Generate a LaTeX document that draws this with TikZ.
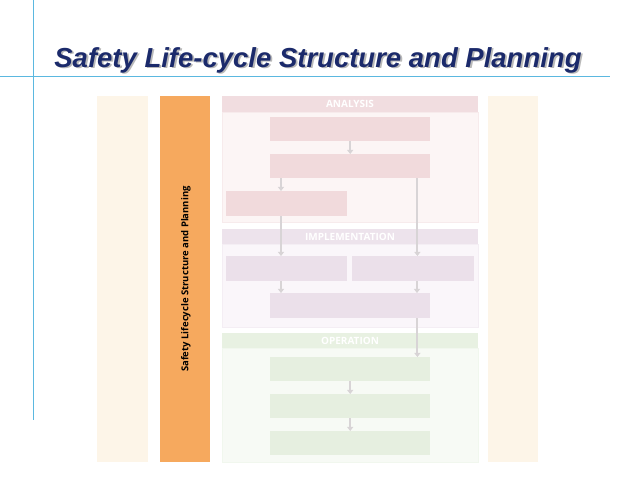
\documentclass[tikz,border=0pt]{standalone}
\usepackage{fontspec}
\setmainfont{Liberation Sans}
\newfontfamily\lbl{Open Sans}
\usetikzlibrary{arrows.meta}
\definecolor{navy}{HTML}{1B2A6B}
\definecolor{rule}{HTML}{5BB8E0}
\definecolor{cream}{HTML}{FDF5E8}
\definecolor{orng}{HTML}{F6A95E}
\definecolor{pkhead}{HTML}{F1DDE0}
\definecolor{pkbg}{HTML}{FCF5F5}
\definecolor{pkbox}{HTML}{F1DADC}
\definecolor{imhead}{HTML}{EDE3EC}
\definecolor{imbg}{HTML}{FAF6FA}
\definecolor{imbox}{HTML}{EBE0EA}
\definecolor{ophead}{HTML}{E8F1E2}
\definecolor{opbg}{HTML}{F7FAF5}
\definecolor{opbox}{HTML}{E6EFE0}
\definecolor{arr}{HTML}{D8D4D6}
\tikzset{
 bx/.style={draw=none,inner sep=0pt,anchor=north west},
 flow/.style={draw=arr,line width=2pt,-{Triangle[width=6pt,length=4pt]}},
 hdr/.style={font=\lbl\bfseries\fontsize{10}{11}\selectfont,text=white},
 ttl/.style={font=\bfseries\itshape\fontsize{27.5}{30}\selectfont}
}
\begin{document}
\begin{tikzpicture}[x=1pt,y=-1pt]
\useasboundingbox (0,0) rectangle (638,478);
\draw[rule,line width=0.6pt] (33,0) -- (33,420);
\draw[rule,line width=0.6pt] (0,76) -- (610,76);
\node[ttl,text=gray!55] at (319.8,61.8) {Safety Life-cycle Structure and Planning};
\node (title) [ttl,text=navy] at (318,60) {Safety Life-cycle Structure and Planning};
% side panels
\fill[cream] (97,96) rectangle (148,462);
\fill[cream] (488,96) rectangle (538,462);
\fill[orng] (160,96) rectangle (210,462);
\node (side) [rotate=90,font=\lbl\bfseries\fontsize{9.5}{10}\selectfont] at (186,279) {Safety Lifecycle Structure and Planning};
% sections
\filldraw[fill=pkbg,draw=pkhead!60] (222,112) rectangle (478,222);
\fill[pkhead] (222,96) rectangle (478,112);
\node (ha) [hdr] at (350,104) {ANALYSIS};
\filldraw[fill=imbg,draw=imhead!60] (222,244) rectangle (478,327);
\fill[imhead] (222,229) rectangle (478,244);
\node (hi) [hdr] at (350,237) {IMPLEMENTATION};
\filldraw[fill=opbg,draw=ophead!60] (222,348) rectangle (478,462);
\fill[ophead] (222,333) rectangle (478,348);
\node (ho) [hdr] at (350,341) {OPERATION};
% boxes
\node (a1) [bx,fill=pkbox,minimum width=160pt,minimum height=24pt] at (270,117) {};
\node (a2) [bx,fill=pkbox,minimum width=160pt,minimum height=24pt] at (270,154) {};
\node (a3) [bx,fill=pkbox,minimum width=121pt,minimum height=25pt] at (226,191) {};
\node (i1) [bx,fill=imbox,minimum width=121pt,minimum height=25pt] at (226,256) {};
\node (i2) [bx,fill=imbox,minimum width=122pt,minimum height=25pt] at (352,256) {};
\node (i3) [bx,fill=imbox,minimum width=160pt,minimum height=25pt] at (270,293) {};
\node (o1) [bx,fill=opbox,minimum width=160pt,minimum height=24pt] at (270,357) {};
\node (o2) [bx,fill=opbox,minimum width=160pt,minimum height=24pt] at (270,394) {};
\node (o3) [bx,fill=opbox,minimum width=160pt,minimum height=24pt] at (270,431) {};
% arrows
\draw[flow] (a1.south) -- (a2.north);
\draw[flow] (a2.south west) ++(11,0) coordinate (s1) -- (s1 |- a3.north);
\draw[flow] (a3.south west) ++(55,0) coordinate (s2) -- (s2 |- i1.north);
\draw[flow] (a2.south east) ++(-13,0) coordinate (s3) -- (s3 |- i2.north);
\draw[flow] (i1.south west) ++(55,0) coordinate (s4) -- (s4 |- i3.north);
\draw[flow] (i2.south west) ++(65,0) coordinate (s5) -- (s5 |- i3.north);
\draw[flow] (i3.south east) ++(-13,0) coordinate (s6) -- (s6 |- o1.north);
\draw[flow] (o1.south) -- (o2.north);
\draw[flow] (o2.south) -- (o3.north);
\end{tikzpicture}
\end{document}
